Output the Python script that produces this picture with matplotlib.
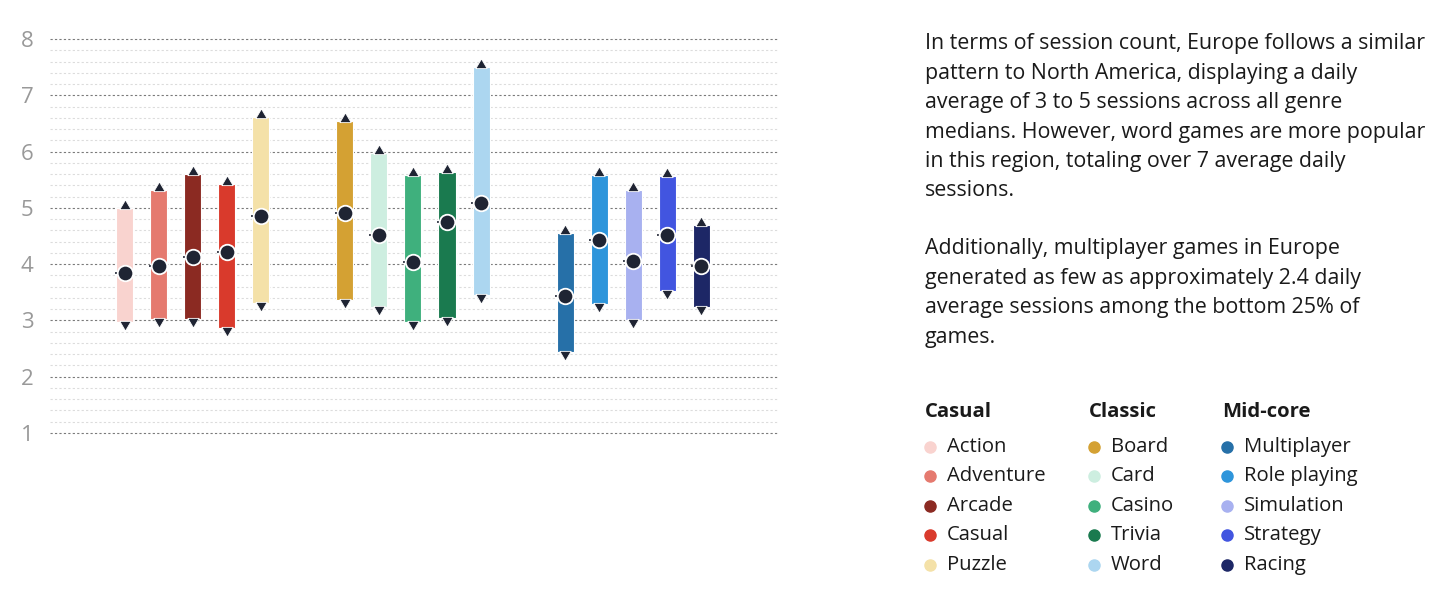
import matplotlib.pyplot as plt
from matplotlib.lines import Line2D
import numpy as np

plt.rcParams['font.family'] = ['Open Sans', 'DejaVu Sans']

# data: 25th percentile, median, 75th percentile
groups = ['Casual', 'Classic', 'Mid-core']
genres = [['Action', 'Adventure', 'Arcade', 'Casual', 'Puzzle'],
          ['Board', 'Card', 'Casino', 'Trivia', 'Word'],
          ['Multiplayer', 'Role playing', 'Simulation', 'Strategy', 'Racing']]
low = [[2.98, 3.03, 3.03, 2.87, 3.31],
       [3.36, 3.24, 2.98, 3.04, 3.45],
       [2.44, 3.30, 3.01, 3.52, 3.24]]
median = [[3.84, 3.96, 4.12, 4.22, 4.86],
          [4.91, 4.52, 4.04, 4.74, 5.08],
          [3.43, 4.43, 4.06, 4.51, 3.97]]
high = [[5.00, 5.31, 5.60, 5.42, 6.61],
        [6.55, 5.98, 5.58, 5.63, 7.51],
        [4.56, 5.58, 5.32, 5.57, 4.70]]
colors = [['#f9d3cf', '#e57a6f', '#8b2a22', '#d93a2c', '#f4e1a8'],
          ['#d4a133', '#cdeee0', '#3fb07d', '#1a7a4f', '#acd6f0'],
          ['#2670a8', '#2e95db', '#a8b1f0', '#4255e0', '#1d2766']]

paragraph1 = ['In terms of session count, Europe follows a similar',
              'pattern to North America, displaying a daily',
              'average of 3 to 5 sessions across all genre',
              'medians. However, word games are more popular',
              'in this region, totaling over 7 average daily',
              'sessions.']
paragraph2 = ['Additionally, multiplayer games in Europe',
              'generated as few as approximately 2.4 daily',
              'average sessions among the bottom 25% of',
              'games.']

W, H = 1456, 606
fig = plt.figure(figsize=(W / 100, H / 100), dpi=100)
# y axis 0.9..8.1, 8 at 39px and 1 at 433px
ppu = 394 / 7
ax = fig.add_axes([50 / W, 1 - (433 + 0.1 * ppu) / H, 728 / W, 7.2 * ppu / H])

ax.set_ylim(0.9, 8.1)
ax.set_xlim(-2.2, 19.2)
dark = '#1f2433'
up = [(-1, -0.2), (1, -0.2), (0, 1.5), (-1, -0.2)]
down = [(-1, 0.2), (1, 0.2), (0, -1.5), (-1, 0.2)]

for g in range(3):
    x = np.arange(5) + g * 6.47
    lo = np.array(low[g])
    hi = np.array(high[g])
    md = np.array(median[g])
    ax.bar(x, hi - lo, bottom=lo, width=0.5, color=colors[g],
           edgecolor='white', linewidth=0.8, zorder=3)
    ax.hlines(md, x - 0.3, x + 0.3, colors=dark, linestyles=(0, (1.5, 1.5)),
              linewidth=1.2, zorder=4)
    ax.scatter(x, md, s=125, color=dark, edgecolor='white', linewidth=1.3, zorder=5)
    ax.scatter(x, hi, s=150, marker=up, color=dark, edgecolor='white',
               linewidth=0.6, zorder=5, clip_on=False)
    ax.scatter(x, lo, s=150, marker=down, color=dark, edgecolor='white',
               linewidth=0.6, zorder=5, clip_on=False)

# grid
for v in np.arange(1, 8.01, 0.2):
    if abs(v - round(v)) < 1e-6:
        ax.axhline(v, color='#7a7a7a', linewidth=0.8, linestyle=(0, (2, 2)), zorder=1)
    else:
        ax.axhline(v, color='#dcdcdc', linewidth=0.8, linestyle=(0, (2, 2)), zorder=1)

ax.set_yticks(range(1, 9))
ax.tick_params(axis='y', length=0, labelsize=16, labelcolor='#999999', pad=12)
ax.set_xticks([])
for s in ax.spines.values():
    s.set_visible(False)

# commentary text
fs = 14.6
lh = 29.4
for i, line in enumerate(paragraph1):
    fig.text(925 / W, 1 - (44 + i * lh) / H, line, fontsize=15.4,
             color='#1a1a1a', va='center', ha='left')
for i, line in enumerate(paragraph2):
    fig.text(925 / W, 1 - (249 + i * lh) / H, line, fontsize=15.4,
             color='#1a1a1a', va='center', ha='left')

# legend
col_x = [925, 1089, 1222]
for g in range(3):
    fig.text(col_x[g] / W, 1 - 412 / H, groups[g], fontsize=fs,
             fontweight='bold', color='#1a1a1a', va='center', ha='left')
    for i, name in enumerate(genres[g]):
        y = 1 - (447 + i * lh) / H
        fig.add_artist(Line2D([(col_x[g] + 5) / W], [y], marker='o', markersize=8,
                              color=colors[g][i], linestyle='none',
                              transform=fig.transFigure))
        fig.text((col_x[g] + 22) / W, y, name, fontsize=fs, color='#1a1a1a',
                 va='center', ha='left')

fig.savefig('out.png', dpi=100, facecolor='white')
